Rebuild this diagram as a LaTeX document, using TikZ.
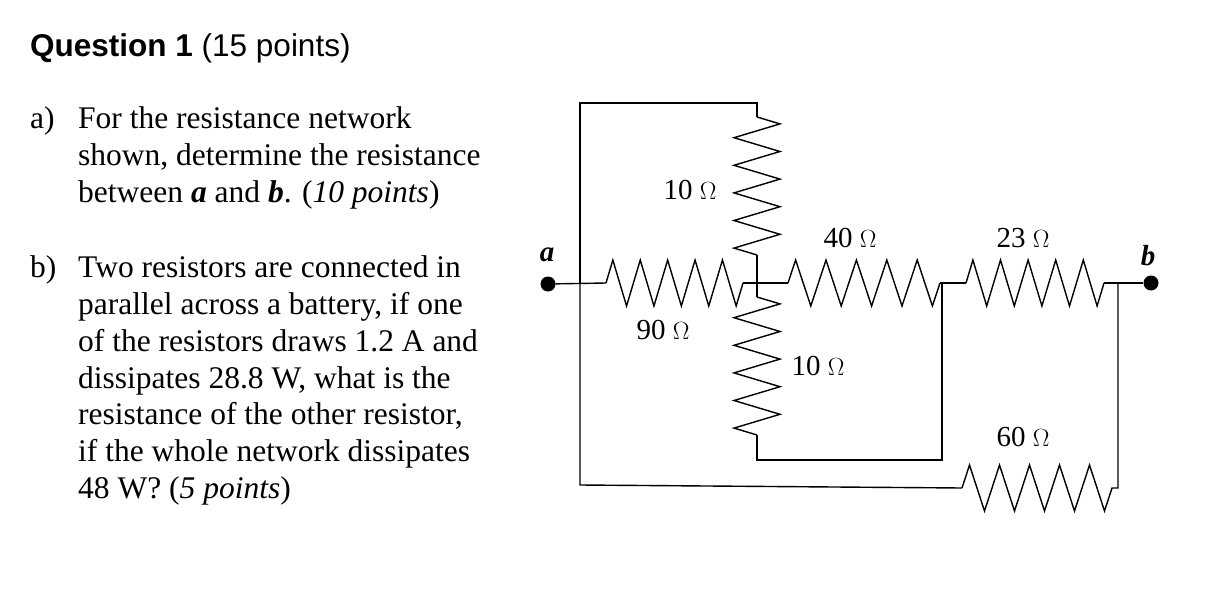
\documentclass[tikz,border=0pt]{standalone}
\usepackage{fontspec}
\setmainfont{Liberation Serif}
\newfontfamily\sansf{Liberation Sans}
\begin{document}
\begin{tikzpicture}[x=1pt,y=-1pt,
  txt/.style={anchor=base west,inner sep=0pt,font=\fontsize{31.5}{36}\selectfont},
  lbl/.style={inner sep=0pt,font=\fontsize{29}{32}\selectfont},
  wire/.style={line width=1.4pt},
  dot/.style={circle,fill=black,minimum size=15pt,inner sep=0pt}]
\useasboundingbox (0,0) rectangle (1212,596);
\newcommand\hres[3]{\draw[wire] (#1,#3) \foreach \k in {0,...,4}{ -- ({#1+(#2-#1)*(\k+0.25)/5},#3-23) -- ({#1+(#2-#1)*(\k+0.75)/5},#3+23)} -- (#2,#3);}
\newcommand\vres[3]{\draw[wire] (#3,#1) \foreach \k in {0,...,4}{ -- (#3+23,{#1+(#2-#1)*(\k+0.25)/5}) -- (#3-23,{#1+(#2-#1)*(\k+0.75)/5})} -- (#3,#2);}
% text
\node[txt,font=\sansf\fontsize{31.5}{36}\selectfont] (q) at (30,57) {\textbf{Question 1} (15 points)};
\node[txt] (a1) at (30,129) {a)};
\node[txt] (l1) at (78,129) {For the resistance network};
\node[txt] (l2) at (78,166) {shown, determine the resistance};
\node[txt] (l3) at (78,203) {between \textbf{\textit{a}} and \textbf{\textit{b}}. (\textit{10 points})};
\node[txt] (b1) at (30,277) {b)};
\node[txt] (m1) at (78,277) {Two resistors are connected in};
\node[txt] (m2) at (78,314) {parallel across a battery, if one};
\node[txt] (m3) at (78,351) {of the resistors draws 1.2 A and};
\node[txt] (m4) at (78,388) {dissipates 28.8 W, what is the};
\node[txt] (m5) at (78,424) {resistance of the other resistor,};
\node[txt] (m6) at (78,461) {if the whole network dissipates};
\node[txt] (m7) at (78,498) {48 W? (\textit{5 points})};
% circuit
\node[dot] (A) at (548,284) {};
\node[dot] (B) at (1151,283) {};
\draw[wire] (A) -- (606,283);
\hres{606}{743}{283}
\draw[wire] (743,283) -- (788,283);
\hres{788}{940}{283}
\draw[wire] (940,283) -- (966,283);
\hres{966}{1104}{283}
\draw[wire] (1104,283) -- (B);
% top loop
\draw[wire] (580,283) -- (580,103) -- (757,103) -- (757,117);
\vres{117}{255}{757}
\draw[wire] (757,255) -- (757,297);
\vres{297}{435}{757}
\draw[wire] (757,435) -- (757,460) -- (942,460) -- (942,283);
% bottom
\draw[wire] (580,283) -- (580,485) -- (962,488);
\draw[wire] (962,488) \foreach \k in {0,...,4}{ -- ({962+150*(\k+0.25)/5},465) -- ({962+150*(\k+0.75)/5},511)} -- (1112,488) -- (1118,488) -- (1118,283);
% labels
\node[lbl] at (690,190) {10 $\Omega$};
\node[lbl] at (850,238) {40 $\Omega$};
\node[lbl] at (1023,238) {23 $\Omega$};
\node[lbl] at (663,330) {90 $\Omega$};
\node[lbl] at (818,366) {10 $\Omega$};
\node[lbl] at (1023,437) {60 $\Omega$};
\node[lbl] at (547,255) {\textbf{\textit{a}}};
\node[lbl] at (1148,256) {\textbf{\textit{b}}};
\end{tikzpicture}
\end{document}
